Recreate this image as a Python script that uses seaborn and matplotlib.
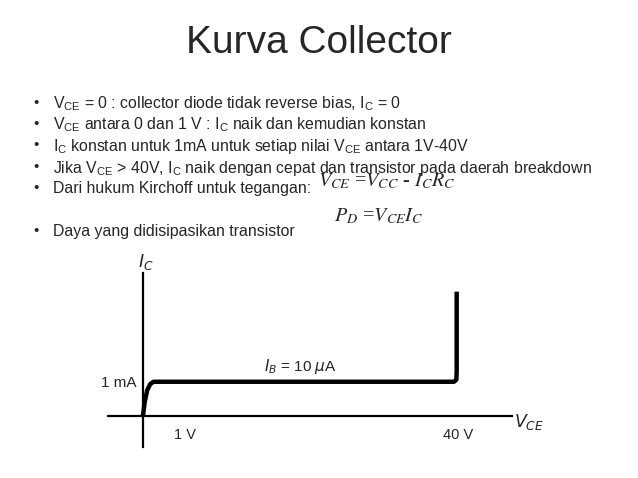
import numpy as np
import pandas as pd
import matplotlib
matplotlib.use("Agg")
import matplotlib.pyplot as plt
import seaborn as sns

# data (V_CE in volts, I_C in mA)
vce = [0, 0.04, 0.1, 0.17, 0.25, 0.5, 1, 10, 20, 30, 39.4, 39.75, 39.8, 39.8]
ic = [0, 0.4, 0.75, 0.93, 1.0, 1.0, 1.0, 1.0, 1.0, 1.0, 1.0, 1.06, 1.3, 3.65]
x_ticks = [1, 40]
x_tick_labels = ["1 V", "40 V"]
y_ticks = [1]
y_tick_labels = ["1 mA"]

title = "Kurva Collector"
bullets = [
    r"$\mathregular{V_{CE}}$ = 0 : collector diode tidak reverse bias, $\mathregular{I_C}$ = 0",
    r"$\mathregular{V_{CE}}$ antara 0 dan 1 V : $\mathregular{I_C}$ naik dan kemudian konstan",
    r"$\mathregular{I_C}$ konstan untuk 1mA untuk setiap nilai $\mathregular{V_{CE}}$ antara 1V-40V",
    r"Jika $\mathregular{V_{CE}}$ > 40V, $\mathregular{I_C}$ naik dengan cepat dan transistor pada daerah breakdown",
    r"Dari hukum Kirchoff untuk tegangan:",
    r"Daya yang didisipasikan transistor",
]
bullet_y = [104, 125, 146, 168, 189, 232]

W, H = 638, 478
sns.set_style("white")
plt.rcParams["font.family"] = ["Liberation Sans", "DejaVu Sans"]

fig = plt.figure(figsize=(W / 100, H / 100), dpi=100)


def fx(px):
    return px / W


def fy(py):
    return 1 - py / H


fig.text(fx(319), fy(43), title, ha="center", va="center", fontsize=28)
for txt, y in zip(bullets, bullet_y):
    fig.text(fx(33), fy(y - 1), "\u2022", ha="left", va="center", fontsize=11)
    fig.text(fx(53), fy(y), txt, ha="left", va="center", fontsize=11.4)

fig.text(fx(318), fy(181), r"$V_{CE}$ =$V_{CC}$ - $I_CR_C$", ha="left", va="center",
         fontsize=14.5, family="Liberation Serif", math_fontfamily="stix")
fig.text(fx(334), fy(216), r"$P_D$ =$V_{CE}I_C$", ha="left", va="center",
         fontsize=14.5, family="Liberation Serif", math_fontfamily="stix")

# chart axes placed where the drawing sits
ax = fig.add_axes([fx(108), fy(447), fx(512) - fx(108), (447 - 273) / H])


def fwd(x):
    x = np.asarray(x, dtype=float)
    return np.where(x <= 1, x, 1 + (x - 1) * 6.5 / 39)


def inv(u):
    u = np.asarray(u, dtype=float)
    return np.where(u <= 1, u, 1 + (u - 1) * 39 / 6.5)


ax.set_xscale("function", functions=(fwd, inv))

df = pd.DataFrame({"vce": vce, "ic": ic})
sns.lineplot(data=df, x="vce", y="ic", sort=False, estimator=None, color="black", lw=3.2,
             solid_joinstyle="round", solid_capstyle="butt", ax=ax)

ax.set_xlim(-0.833, 47.7)
ax.set_ylim(-0.92, 4.2)
for s in ["top", "right"]:
    ax.spines[s].set_visible(False)
ax.spines["left"].set_position(("data", 0))
ax.spines["bottom"].set_position(("data", 0))
for s in ["left", "bottom"]:
    ax.spines[s].set_linewidth(1.6)
    ax.spines[s].set_color("black")

ax.set_xticks(x_ticks)
ax.set_xticklabels(x_tick_labels)
ax.tick_params(axis="x", direction="in", length=10, width=1.6, pad=9, labelsize=10.5)
ax.set_yticks(y_ticks)
ax.set_yticklabels(y_tick_labels)
ax.tick_params(axis="y", length=0, pad=5, labelsize=11)
ax.set_xlabel("")
ax.set_ylabel("")
ax.patch.set_alpha(0)

fig.text(fx(146), fy(262), r"$I_C$", ha="center", va="center", fontsize=12.5,
         math_fontfamily="dejavusans")
fig.text(fx(514), fy(422), r"$V_{CE}$", ha="left", va="center", fontsize=12.5,
         math_fontfamily="dejavusans")
fig.text(fx(300), fy(367), r"$I_B$ = 10 $\mu$A", ha="center", va="center", fontsize=11,
         math_fontfamily="dejavusans")

fig.savefig("out.png", dpi=100)
